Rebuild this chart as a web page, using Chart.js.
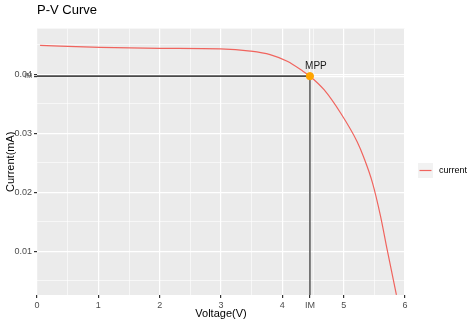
<!DOCTYPE html>
<html>
<head>
<meta charset="utf-8">
<script src="https://cdn.jsdelivr.net/npm/chart.js@4/dist/chart.umd.min.js"></script>
<style>
  html, body { margin: 0; padding: 0; background: #ffffff; }
  #wrap { width: 474px; height: 325px; position: relative; }
</style>
</head>
<body>
<div id="wrap"><canvas id="c" width="474" height="325"></canvas></div>
<script>
// ---- data ----
const voltage = [0.05, 1.03, 2.00, 2.99, 3.48, 3.80, 4.08, 4.34, 4.45, 4.68, 4.95, 5.22, 5.33, 5.47, 5.60, 5.71, 5.86];
const current = [0.04488, 0.04454, 0.04437, 0.04428, 0.04390, 0.04331, 0.04217, 0.04047, 0.03966, 0.03737, 0.03342, 0.02856, 0.02585, 0.02161, 0.01602, 0.01025, 0.00265];
const mppVoltage = 4.45;
const mppCurrent = 0.03966;
const xTickValues = [0, 1, 2, 3, 4, 5, 6];
const xMinorValues = [0.5, 1.5, 2.5, 3.5, 4.5, 5.5];
const yTickValues = [0.01, 0.02, 0.03, 0.04];
const yMinorValues = [0.005, 0.015, 0.025, 0.035, 0.045];
const yTickLabels = ['0.01', '0.02', '0.03', '0.04'];
const X_MIN = 0, X_MAX = 6;
const Y_MIN = 0.002627, Y_MAX = 0.04771;
const seriesName = 'current';

const FONT = "'Liberation Sans', Arial, sans-serif";
const LINE_COLOR = '#F0645E';

const curvePoints = voltage.map((v, i) => ({ x: v, y: current[i] }));

function isMajor(list, v) { return list.some(t => Math.abs(t - v) < 1e-9); }

const bgPlugin = {
  id: 'panelBg',
  beforeDraw(chart) {
    const { ctx, chartArea: a } = chart;
    ctx.save();
    ctx.fillStyle = '#EBEBEB';
    ctx.fillRect(a.left, a.top, a.right - a.left, a.bottom - a.top);
    ctx.restore();
  }
};

const annotPlugin = {
  id: 'annot',
  afterDatasetsDraw(chart) {
    const { ctx, scales } = chart;
    const px = scales.x.getPixelForValue(mppVoltage);
    const py = scales.y.getPixelForValue(mppCurrent);
    ctx.save();
    ctx.font = '10px ' + FONT;
    ctx.fillStyle = '#1a1a1a';
    ctx.textAlign = 'center';
    ctx.textBaseline = 'middle';
    ctx.fillText('MPP', px + 6, py - 10);
    // legend
    const kx = 418, ky = 163, ks = 15;
    ctx.fillStyle = '#F2F2F2';
    ctx.fillRect(kx, ky, ks, ks);
    ctx.strokeStyle = LINE_COLOR;
    ctx.lineWidth = 1.2;
    ctx.beginPath();
    ctx.moveTo(kx + 1.5, ky + ks / 2);
    ctx.lineTo(kx + ks - 1.5, ky + ks / 2);
    ctx.stroke();
    ctx.fillStyle = '#000000';
    ctx.font = '9px ' + FONT;
    ctx.textAlign = 'left';
    ctx.fillText(seriesName, kx + ks + 6, ky + ks / 2);
    ctx.restore();
  }
};

new Chart(document.getElementById('c'), {
  type: 'scatter',
  data: {
    datasets: [
      {
        label: seriesName,
        data: curvePoints,
        showLine: true,
        borderColor: LINE_COLOR,
        borderWidth: 1.2,
        pointRadius: 0,
        cubicInterpolationMode: 'monotone',
        order: 2
      },
      {
        label: 'mppH',
        data: [{ x: X_MIN, y: mppCurrent }, { x: mppVoltage, y: mppCurrent }],
        showLine: true,
        borderColor: '#4a4a4a',
        borderWidth: 1.6,
        pointRadius: 0,
        order: 1
      },
      {
        label: 'mppV',
        data: [{ x: mppVoltage, y: mppCurrent }, { x: mppVoltage, y: Y_MIN }],
        showLine: true,
        borderColor: '#4a4a4a',
        borderWidth: 1.4,
        pointRadius: 0,
        order: 1
      },
      {
        label: 'MPP',
        data: [{ x: mppVoltage, y: mppCurrent }],
        pointRadius: 3.6,
        pointBackgroundColor: '#FFA500',
        pointBorderColor: '#FFA500',
        order: 0
      }
    ]
  },
  options: {
    responsive: false,
    animation: false,
    devicePixelRatio: 1,
    layout: { padding: { top: 0, left: 0, right: 69, bottom: 0 } },
    plugins: {
      legend: { display: false },
      tooltip: { enabled: false },
      title: {
        display: true,
        text: 'P-V Curve',
        align: 'start',
        fullSize: false,
        color: '#000000',
        font: { family: FONT, size: 13, weight: 'normal' },
        padding: { top: 3, bottom: 10 }
      }
    },
    scales: {
      x: {
        type: 'linear',
        min: X_MIN,
        max: X_MAX,
        border: { display: false },
        afterFit(s) { s.height = 30; },
        afterBuildTicks(s) {
          s.ticks = xTickValues.concat(xMinorValues, [mppVoltage]).sort((a, b) => a - b).map(v => ({ value: v }));
        },
        grid: {
          color: '#FFFFFF',
          lineWidth: ctx => (ctx.tick && isMajor(xMinorValues, ctx.tick.value)) ? 0.6 : 1.2,
          tickColor: ctx => (ctx.tick && isMajor(xMinorValues, ctx.tick.value)) ? 'rgba(0,0,0,0)' : '#333333',
          tickLength: 3,
          drawTicks: true
        },
        ticks: {
          autoSkip: false,
          maxRotation: 0,
          minRotation: 0,
          padding: 2,
          color: '#4D4D4D',
          font: { family: FONT, size: 9 },
          callback(value) {
            if (Math.abs(value - mppVoltage) < 1e-9) return 'IM';
            if (isMajor(xTickValues, value)) return String(Math.round(value));
            return '';
          }
        },
        title: {
          display: true,
          text: 'Voltage(V)',
          color: '#000000',
          font: { family: FONT, size: 11 },
          padding: { top: 2, bottom: 4 }
        }
      },
      y: {
        type: 'linear',
        min: Y_MIN,
        max: Y_MAX,
        border: { display: false },
        afterFit(s) { s.width = 37; },
        afterBuildTicks(s) {
          s.ticks = yTickValues.concat(yMinorValues, [mppCurrent]).sort((a, b) => a - b).map(v => ({ value: v }));
        },
        grid: {
          color: '#FFFFFF',
          lineWidth: ctx => (ctx.tick && isMajor(yMinorValues, ctx.tick.value)) ? 0.6 : 1.2,
          tickColor: ctx => (ctx.tick && isMajor(yMinorValues, ctx.tick.value)) ? 'rgba(0,0,0,0)' : '#333333',
          tickLength: 3,
          drawTicks: true
        },
        ticks: {
          autoSkip: false,
          padding: 2,
          color: '#4D4D4D',
          font: ctx => ({ family: FONT, size: (ctx.tick && Math.abs(ctx.tick.value - mppCurrent) < 1e-9) ? 7 : 9 }),
          callback(value) {
            if (Math.abs(value - mppCurrent) < 1e-9) return 'IM';
            const i = yTickValues.findIndex(t => Math.abs(t - value) < 1e-9);
            return i >= 0 ? yTickLabels[i] : '';
          }
        },
        title: {
          display: true,
          text: 'Current(mA)',
          color: '#000000',
          font: { family: FONT, size: 11 },
          padding: { top: 4, bottom: 2 }
        }
      }
    }
  },
  plugins: [bgPlugin, annotPlugin]
});
</script>
</body>
</html>
